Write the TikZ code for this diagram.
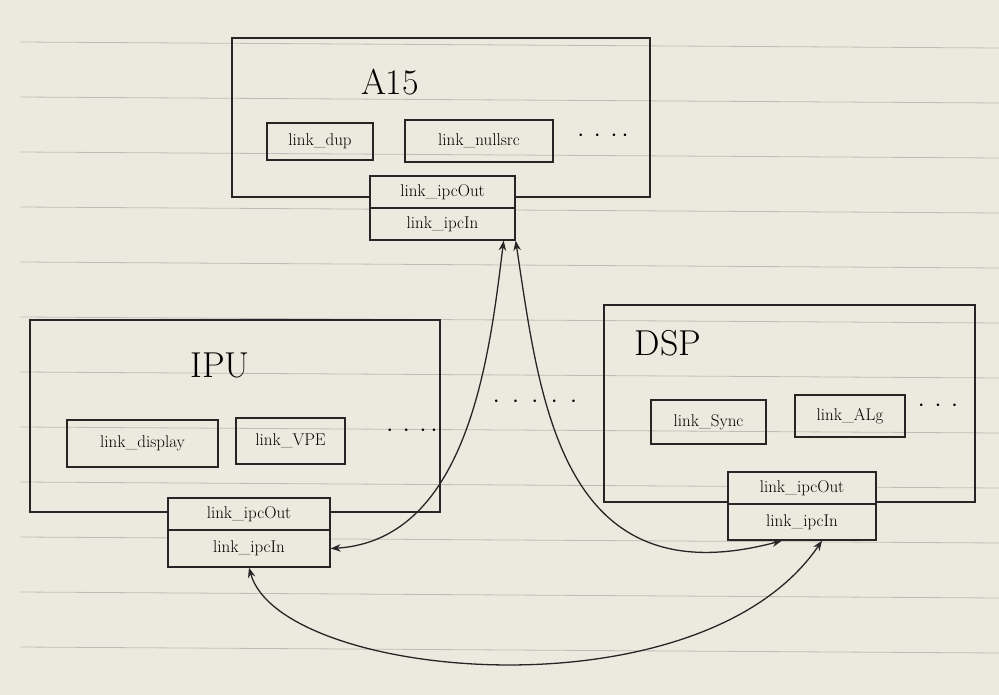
\documentclass[tikz,border=0pt]{standalone}
\usetikzlibrary{arrows.meta}
\definecolor{paper}{RGB}{236,234,222}
\definecolor{rule}{RGB}{190,190,185}
\begin{document}
\begin{tikzpicture}[x=1pt,y=-1pt,
  box/.style={draw=black!85,line width=1.4pt},
  lk/.style={draw=black!85,line width=1.3pt,inner sep=0pt,font=\fontsize{17}{19}\selectfont},
  title/.style={font=\fontsize{36}{40}\selectfont},
  dots/.style={font=\fontsize{24}{26}\selectfont},
  arr/.style={line width=1.3pt,draw=black!85,{Stealth[length=10pt]}-{Stealth[length=10pt]}}]
\fill[paper] (0,0) rectangle (999,695);
\useasboundingbox (0,0) rectangle (999,695);
\foreach \y in {45,100,155,210,265,320,375,430,485,540,595,650}
  \draw[rule,line width=0.8pt] (20,\y-3) -- (999,\y+3);
% A15
\node[box,minimum width=418pt,minimum height=159pt] (a15) at (441,117.5) {};
\node[title] (a15t) at (390,82) {A15};
\node[lk,minimum width=106pt,minimum height=37pt] (adup) at (320,141.5) {link\_dup};
\node[lk,minimum width=148pt,minimum height=42pt] (anull) at (479,141) {link\_nullsrc};
\node[dots] (adots) at (603,136) {$\cdot\,\cdot\,\cdot\,\cdot$};
\node[lk,fill=paper,minimum width=145pt,minimum height=32pt] (aout) at (442.5,192) {link\_ipcOut};
\node[lk,fill=paper,minimum width=145pt,minimum height=32pt] (ain) at (442.5,224) {link\_ipcIn};
% IPU
\node[box,minimum width=410pt,minimum height=192pt] (ipu) at (235,416) {};
\node[title] (ipt) at (220,365) {IPU};
\node[lk,minimum width=151pt,minimum height=47pt] (idis) at (142.5,443.5) {link\_display};
\node[lk,minimum width=109pt,minimum height=46pt] (ivpe) at (290.5,441) {link\_VPE};
\node[dots] (idots) at (412,431) {$\cdot\,\cdot\,\cdot\,\cdot$};
\node[lk,fill=paper,minimum width=162pt,minimum height=32pt] (iout) at (249,514) {link\_ipcOut};
\node[lk,fill=paper,minimum width=162pt,minimum height=37pt] (iin) at (249,548.5) {link\_ipcIn};
% DSP
\node[box,minimum width=371pt,minimum height=197pt] (dsp) at (789.5,403.5) {};
\node[title] (dspt) at (668,343) {DSP};
\node[lk,minimum width=115pt,minimum height=44pt] (dsync) at (708.5,422) {link\_Sync};
\node[lk,minimum width=110pt,minimum height=42pt] (dalg) at (850,416) {link\_ALg};
\node[dots] (ddots) at (938,406) {$\cdot\,\cdot\,\cdot$};
\node[lk,fill=paper,minimum width=148pt,minimum height=32pt] (dout) at (802,488) {link\_ipcOut};
\node[lk,fill=paper,minimum width=148pt,minimum height=36pt] (din) at (802,522) {link\_ipcIn};
\node[dots] (mdots) at (535,402) {$\cdot\;\cdot\;\cdot\;\cdot\;\cdot$};
% arrows
\draw[arr] (iin.east) .. controls (470,540) and (490,350) .. ([xshift=-12pt]ain.south east);
\draw[arr] ([xshift=0pt]ain.south east) .. controls (540,400) and (560,600) .. ([xshift=-20pt]din.south);
\draw[arr] ([xshift=0pt]iin.south) .. controls (280,680) and (700,720) .. ([xshift=20pt]din.south);
\end{tikzpicture}
\end{document}
